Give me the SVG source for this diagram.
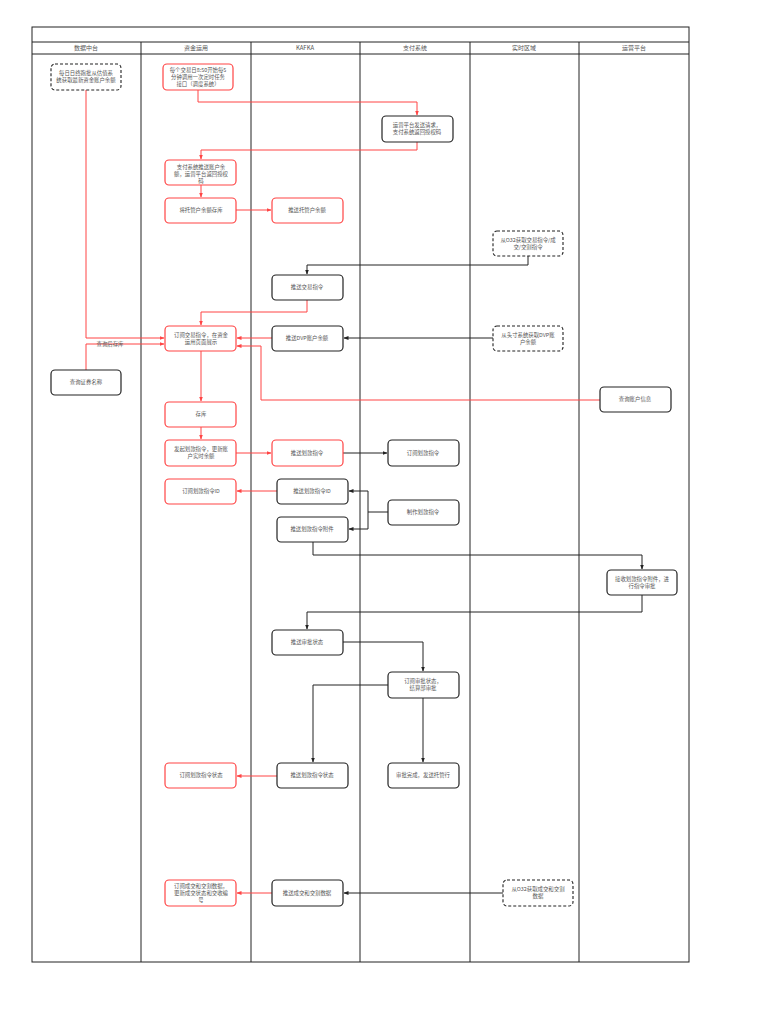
<svg xmlns="http://www.w3.org/2000/svg" width="768" height="1024" viewBox="0 0 768 1024">
<style>
text{font-family:"Noto Sans CJK SC","Liberation Sans",sans-serif;font-size:5.4px;fill:#555;text-anchor:middle}
.h{font-size:6px}
.lane{stroke:#222;stroke-width:1;fill:none}
.r{fill:#fff;stroke:#f44;stroke-width:1.2}
.k{fill:#fff;stroke:#222;stroke-width:1.2}
.d{fill:#fff;stroke:#222;stroke-width:1.1;stroke-dasharray:3,2}
.cr{fill:none;stroke:#f44;stroke-width:1}
.ck{fill:none;stroke:#222;stroke-width:1}
</style>
<defs>
<marker id="ar" viewBox="0 0 10 10" refX="9" refY="5" markerWidth="5" markerHeight="5" orient="auto"><path d="M0,1L10,5L0,9z" fill="#f44"/></marker>
<marker id="ak" viewBox="0 0 10 10" refX="9" refY="5" markerWidth="5" markerHeight="5" orient="auto"><path d="M0,1L10,5L0,9z" fill="#222"/></marker>
</defs>
<rect width="768" height="1024" fill="#fff"/>
<g id="lanes">
<rect class="lane" x="32" y="27" width="657" height="935"/>
<line class="lane" x1="32" y1="42" x2="689" y2="42"/>
<line class="lane" x1="32" y1="54" x2="689" y2="54" stroke-width="1.3"/>
<line class="lane" x1="141" y1="42" x2="141" y2="962"/>
<line class="lane" x1="251" y1="42" x2="251" y2="962"/>
<line class="lane" x1="360" y1="42" x2="360" y2="962"/>
<line class="lane" x1="470" y1="42" x2="470" y2="962"/>
<line class="lane" x1="579" y1="42" x2="579" y2="962"/>
<text class="h" x="86" y="50">数据中台</text>
<text class="h" x="196" y="50">资金运用</text>
<text class="h" x="305" y="50">KAFKA</text>
<text class="h" x="415" y="50">支付系统</text>
<text class="h" x="524" y="50">实时区域</text>
<text class="h" x="634" y="50">运营平台</text>
</g>
<g id="connectors">
<path class="cr" d="M86,90V338H164" marker-end="url(#ar)"/>
<path class="cr" d="M86,370V344H164" marker-end="url(#ar)"/>
<text x="110" y="346">查询后存库</text>
<path class="cr" d="M198,90V102H417V115" marker-end="url(#ar)"/>
<path class="cr" d="M417,142V150H201V159" marker-end="url(#ar)"/>
<path class="cr" d="M201,185V197" marker-end="url(#ar)"/>
<path class="cr" d="M236,210H271" marker-end="url(#ar)"/>
<path class="ck" d="M528,256V265H307V274" marker-end="url(#ak)"/>
<path class="cr" d="M307,300V312H201V325" marker-end="url(#ar)"/>
<path class="cr" d="M272,338H237" marker-end="url(#ar)"/>
<path class="ck" d="M493,338H344" marker-end="url(#ak)"/>
<path class="cr" d="M600,400H261V346H237" marker-end="url(#ar)"/>
<path class="cr" d="M201,351V401" marker-end="url(#ar)"/>
<path class="cr" d="M201,427V439" marker-end="url(#ar)"/>
<path class="cr" d="M236,453H271" marker-end="url(#ar)"/>
<path class="ck" d="M343,453H387" marker-end="url(#ak)"/>
<path class="cr" d="M277,491H237" marker-end="url(#ar)"/>
<path class="ck" d="M388,512H368V491H349" marker-end="url(#ak)"/>
<path class="ck" d="M368,512V529H349" marker-end="url(#ak)"/>
<path class="ck" d="M313,542V555H642V569" marker-end="url(#ak)"/>
<path class="ck" d="M642,595V612H307V629" marker-end="url(#ak)"/>
<path class="ck" d="M343,642H423V671" marker-end="url(#ak)"/>
<path class="ck" d="M388,685H313V762" marker-end="url(#ak)"/>
<path class="ck" d="M423,698V762" marker-end="url(#ak)"/>
<path class="cr" d="M277,776H237" marker-end="url(#ar)"/>
<path class="cr" d="M272,893H237" marker-end="url(#ar)"/>
<path class="ck" d="M503,893H344" marker-end="url(#ak)"/>
</g>
<g id="n1"><rect class="d" x="51" y="64" width="70" height="26" rx="4"/><text x="86" y="75">每日日终跑批从估值系</text><text x="86" y="82">统获取最新资金账户余额</text></g>
<g id="n2"><rect class="r" x="163" y="64" width="70" height="26" rx="4"/><text x="198" y="72">每个交易日8:50开始每5</text><text x="198" y="79">分钟调用一次定时任务</text><text x="198" y="86">接口（调度系统）</text></g>
<g id="n3"><rect class="k" x="382" y="116" width="71" height="26" rx="4"/><text x="417" y="127">运营平台发送请求，</text><text x="417" y="134">支付系统返回授权码</text></g>
<g id="n4"><rect class="r" x="165" y="160" width="71" height="25" rx="4"/><text x="201" y="169">支付系统推送账户余</text><text x="201" y="176">额，运营平台返回授权</text><text x="201" y="183">码</text></g>
<g id="n5"><rect class="r" x="165" y="198" width="71" height="25" rx="4"/><text x="201" y="212">将托管户余额存库</text></g>
<g id="n6"><rect class="r" x="272" y="198" width="71" height="25" rx="4"/><text x="307" y="212">推送托管户余额</text></g>
<g id="n7"><rect class="d" x="493" y="231" width="70" height="25" rx="4"/><text x="528" y="242">从O32获取交易指令/成</text><text x="528" y="249">交/交割指令</text></g>
<g id="n8"><rect class="k" x="272" y="275" width="71" height="25" rx="4"/><text x="307" y="289">推送交易指令</text></g>
<g id="n9"><rect class="r" x="165" y="326" width="71" height="25" rx="4"/><text x="201" y="337">订阅交易指令，在资金</text><text x="201" y="344">运用页面展示</text></g>
<g id="n10"><rect class="k" x="272" y="326" width="71" height="25" rx="4"/><text x="307" y="340">推送DVP账户余额</text></g>
<g id="n11"><rect class="d" x="493" y="326" width="70" height="25" rx="4"/><text x="528" y="337">从头寸系统获取DVP账</text><text x="528" y="344">户余额</text></g>
<g id="n12"><rect class="k" x="51" y="370" width="70" height="25" rx="4"/><text x="86" y="384">查询证券名称</text></g>
<g id="n13"><rect class="k" x="600" y="387" width="71" height="25" rx="4"/><text x="635" y="401">查询账户信息</text></g>
<g id="n14"><rect class="r" x="165" y="402" width="71" height="25" rx="4"/><text x="201" y="416">存库</text></g>
<g id="n15"><rect class="r" x="165" y="440" width="71" height="26" rx="4"/><text x="201" y="451">发起划款指令，更新账</text><text x="201" y="458">户实时余额</text></g>
<g id="n16"><rect class="r" x="272" y="440" width="71" height="26" rx="4"/><text x="307" y="455">推送划款指令</text></g>
<g id="n17"><rect class="k" x="388" y="440" width="71" height="26" rx="4"/><text x="423" y="455">订阅划款指令</text></g>
<g id="n18"><rect class="r" x="165" y="479" width="71" height="25" rx="4"/><text x="201" y="493">订阅划款指令ID</text></g>
<g id="n19"><rect class="k" x="277" y="479" width="71" height="25" rx="4"/><text x="312" y="493">推送划款指令ID</text></g>
<g id="n20"><rect class="k" x="388" y="500" width="71" height="25" rx="4"/><text x="423" y="514">制作划款指令</text></g>
<g id="n21"><rect class="k" x="277" y="517" width="71" height="25" rx="4"/><text x="312" y="531">推送划款指令附件</text></g>
<g id="n22"><rect class="k" x="607" y="570" width="70" height="25" rx="4"/><text x="642" y="581">接收划款指令附件，进</text><text x="642" y="588">行指令审批</text></g>
<g id="n23"><rect class="k" x="272" y="630" width="71" height="25" rx="4"/><text x="307" y="644">推送审批状态</text></g>
<g id="n24"><rect class="k" x="388" y="672" width="71" height="26" rx="4"/><text x="423" y="683">订阅审批状态，</text><text x="423" y="690">结算部审批</text></g>
<g id="n25"><rect class="r" x="165" y="763" width="71" height="25" rx="4"/><text x="201" y="777">订阅划款指令状态</text></g>
<g id="n26"><rect class="k" x="277" y="763" width="71" height="25" rx="4"/><text x="312" y="777">推送划款指令状态</text></g>
<g id="n27"><rect class="k" x="388" y="763" width="71" height="25" rx="4"/><text x="423" y="777">审批完成，发送托管行</text></g>
<g id="n28"><rect class="r" x="165" y="880" width="71" height="26" rx="4"/><text x="201" y="888">订阅成交和交割数据，</text><text x="201" y="895">更新成交状态和交收编</text><text x="201" y="902">号</text></g>
<g id="n29"><rect class="k" x="272" y="880" width="71" height="26" rx="4"/><text x="307" y="895">推送成交和交割数据</text></g>
<g id="n30"><rect class="d" x="503" y="880" width="70" height="26" rx="4"/><text x="538" y="891">从O32获取成交和交割</text><text x="538" y="898">数据</text></g>
</svg>
